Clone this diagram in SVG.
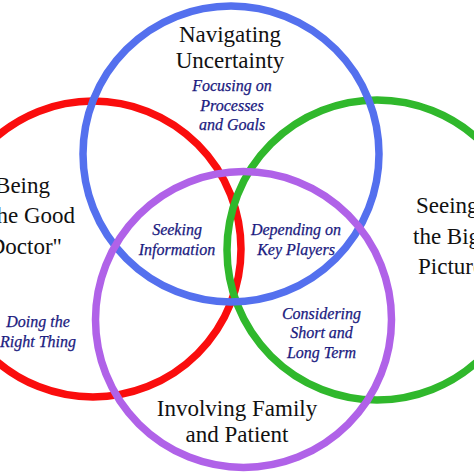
<svg xmlns="http://www.w3.org/2000/svg" width="474" height="474" viewBox="0 0 474 474">
<style>
.ring{fill:none;stroke-width:7.5}
.t{font-family:"Liberation Serif","Times New Roman",serif;font-size:23px;fill:#111}
.s{font-family:"Liberation Serif","Times New Roman",serif;font-size:16px;font-style:italic;fill:#1a1a80;stroke:#1a1a80;stroke-width:0.25}
.m{text-anchor:middle}
</style>
<rect width="474" height="474" fill="#fff"/>
<g id="connectors">
<circle id="ring-red" class="ring" cx="93" cy="249" r="148" stroke="#fa0d0d"/>
<circle id="ring-green" class="ring" cx="377" cy="250" r="150" stroke="#30b82c"/>
<circle id="ring-blue" class="ring" cx="231" cy="154" r="148" stroke="#5470ee"/>
<circle id="ring-purple" class="ring" cx="243.5" cy="319.5" r="148" stroke="#b062e8"/>
</g>
<g id="node-navigating">
<text class="t m" x="230" y="42">Navigating</text>
<text class="t m" x="230" y="68">Uncertainty</text>
<text class="s m" x="232" y="90.5">Focusing on</text>
<text class="s m" x="232" y="110.5">Processes</text>
<text class="s m" x="232" y="129.5">and Goals</text>
</g>
<g id="node-being">
<text class="t" text-anchor="end" x="50" y="193">Being</text>
<text class="t" text-anchor="end" x="75" y="223">the Good</text>
<text class="t" text-anchor="end" x="62" y="254">Doctor"</text>
<text class="s m" x="38" y="327">Doing the</text>
<text class="s m" x="38" y="347">Right Thing</text>
</g>
<g id="node-seeing">
<text class="t" x="416" y="213">Seeing</text>
<text class="t" x="413" y="244">the Big</text>
<text class="t" x="418" y="274">Picture</text>
</g>
<g id="node-involving">
<text class="t m" x="237" y="416">Involving Family</text>
<text class="t m" x="237" y="442">and Patient</text>
</g>
<g id="node-seeking">
<text class="s m" x="177" y="235">Seeking</text>
<text class="s m" x="177" y="255">Information</text>
</g>
<g id="node-depending">
<text class="s m" x="296" y="235">Depending on</text>
<text class="s m" x="296" y="255">Key Players</text>
</g>
<g id="node-considering">
<text class="s m" x="321.5" y="319">Considering</text>
<text class="s m" x="321.5" y="338">Short and</text>
<text class="s m" x="321.5" y="358">Long Term</text>
</g>
</svg>
